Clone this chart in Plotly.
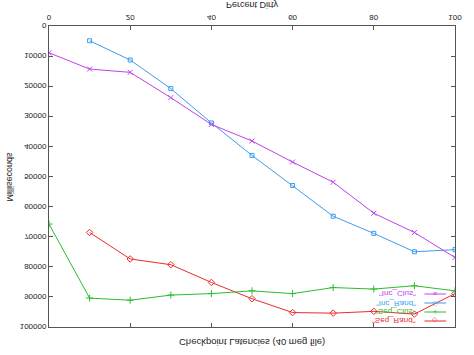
import plotly.graph_objects as go

# ---- data ----
percent_dirty = [0, 10, 20, 30, 40, 50, 60, 70, 80, 90, 100]
seq_rand = [None, 68600, 77400, 79300, 85200, 90600, 95200, 95400, 94800, 95700, 88900]
seq_clus = [65800, 90400, 91100, 89400, 88900, 88000, 88900, 86900, 87400, 86300, 88000]
inc_rand = [None, 4900, 11300, 20800, 32200, 43000, 53000, 63200, 68900, 75000, 74300]
inc_clus = [8900, 14300, 15400, 23800, 32700, 38200, 45200, 51900, 62200, 68600, 76900]

series_names = ['"Seq_Rand"', '"Seq_Clus"', '"Inc_Rand"', '"Inc_Clus"']
series_values = [seq_rand, seq_clus, inc_rand, inc_clus]
series_colors = ["#ee2a2a", "#2cbc2c", "#3d9cf0", "#c040f0"]
series_symbols = ["diamond-open", "cross-thin-open", "square-open", "x-thin-open"]
series_msize = [5, 5, 4, 5]
legend_glyphs = ["\u25c7", "+", "\u25a1", "\u00d7"]

x_ticks = [0, 20, 40, 60, 80, 100]
y_ticks = [0, 10000, 20000, 30000, 40000, 50000, 60000, 70000, 80000, 90000, 100000]

FONT = "Liberation Sans"
TXT = "#222222"

fig = go.Figure()
for name, vals, col, sym, ms in zip(series_names, series_values, series_colors,
                                    series_symbols, series_msize):
    fig.add_trace(go.Scatter(
        x=percent_dirty, y=vals, name=name, mode="lines+markers",
        line=dict(color=col, width=1),
        marker=dict(symbol=sym, size=ms, color=col, line=dict(color=col, width=1)),
        connectgaps=False, showlegend=False,
    ))

# plot area in pixels: x 49..461, y 28..329
L, R, T, B = 49, 13, 28, 26
W, H = 474, 355
pw, ph = W - L - R, H - T - B

def px_x(px):
    return (px - L) / pw

def px_y(py):
    return (H - B - py) / ph

annotations = []
shapes = []
legend_rows = [34, 43, 52, 61]
for i, (name, col, g) in enumerate(zip(series_names, series_colors, legend_glyphs)):
    yy = px_y(legend_rows[i])
    annotations.append(dict(
        x=px_x(423), y=yy, xref="paper", yref="paper", text=name, showarrow=False,
        xanchor="right", yanchor="middle", font=dict(family=FONT, size=8, color=col)))
    shapes.append(dict(type="line", xref="paper", yref="paper",
                       x0=px_x(430), x1=px_x(452), y0=yy, y1=yy,
                       line=dict(color=col, width=1)))
    annotations.append(dict(
        x=px_x(441), y=yy, xref="paper", yref="paper", text=g, showarrow=False,
        xanchor="center", yanchor="middle", font=dict(family=FONT, size=7, color=col)))

annotations.append(dict(
    x=0.5, y=1, xref="paper", yref="paper", yshift=16, showarrow=False,
    text="Checkpoint Latencies (40 meg file)", xanchor="center", yanchor="middle",
    font=dict(family=FONT, size=9.5, color=TXT)))
annotations.append(dict(
    x=0.5, y=0, xref="paper", yref="paper", yshift=-14, showarrow=False,
    text="Percent Dirty", xanchor="center", yanchor="top",
    font=dict(family=FONT, size=9, color=TXT)))
annotations.append(dict(
    x=0, y=0.5, xref="paper", yref="paper", xshift=-39, showarrow=False,
    text="Milliseconds", textangle=90, xanchor="center", yanchor="middle",
    font=dict(family=FONT, size=9, color=TXT)))

axis_common = dict(
    showgrid=False, zeroline=False, showline=True, linecolor="#555555", linewidth=1,
    mirror="ticks", ticks="inside", ticklen=4, tickcolor="#555555",
    tickfont=dict(family=FONT, size=8, color=TXT),
)

fig.update_layout(
    width=W, height=H, margin=dict(l=L, r=R, t=T, b=B, pad=0),
    paper_bgcolor="white", plot_bgcolor="white",
    xaxis=dict(range=[0, 100], tickvals=x_ticks, **axis_common),
    yaxis=dict(range=[0, 100000], tickvals=y_ticks, tickformat="d", **axis_common),
    annotations=annotations, shapes=shapes, showlegend=False,
)

post = (
    "document.body.style.margin='0';document.body.style.overflow='hidden';"
    "var d=document.getElementById('{plot_id}');d.style.transform='scaleY(-1)';"
)
fig.write_html("out.html", post_script=post, config={"displayModeBar": False})
